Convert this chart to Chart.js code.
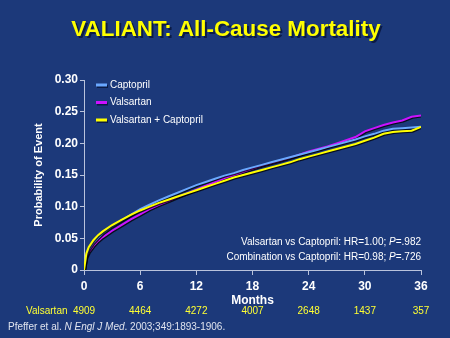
<!DOCTYPE html>
<html>
<head>
<meta charset="utf-8">
<title>VALIANT: All-Cause Mortality</title>
<script src="https://cdn.jsdelivr.net/npm/chart.js@4"></script>
<style>
  html, body { margin: 0; padding: 0; background: #1c397a; }
  #wrap { width: 450px; height: 338px; position: relative; }
</style>
</head>
<body>
<div id="wrap"><canvas id="grafico" width="450" height="338"></canvas></div>
<script>
/* =========================
   DADOS
========================= */
const meses = [0, 0.25, 0.5, 1, 1.5, 2, 3, 4, 5, 6, 7, 8, 9, 10, 11, 12, 13, 14, 15, 16, 17, 18,
  19, 20, 21, 22, 23, 24, 25, 26, 27, 28, 29, 30, 31, 32, 33, 34, 35, 36];

const captopril = [0, 0.022, 0.032, 0.043, 0.051, 0.058, 0.069, 0.078, 0.087, 0.096, 0.103, 0.110,
  0.116, 0.122, 0.128, 0.134, 0.139, 0.144, 0.149, 0.153, 0.158, 0.162, 0.166, 0.170, 0.174,
  0.178, 0.182, 0.186, 0.190, 0.194, 0.198, 0.202, 0.206, 0.211, 0.215, 0.220, 0.223, 0.224,
  0.225, 0.226];

const valsartan = [0, 0.020, 0.028, 0.038, 0.046, 0.052, 0.062, 0.071, 0.080, 0.088, 0.096, 0.103,
  0.109, 0.115, 0.121, 0.127, 0.133, 0.139, 0.145, 0.150, 0.155, 0.160, 0.165, 0.169, 0.173,
  0.177, 0.182, 0.187, 0.191, 0.195, 0.200, 0.205, 0.210, 0.219, 0.224, 0.229, 0.233, 0.236,
  0.242, 0.244];

const combinacao = [0, 0.026, 0.036, 0.047, 0.055, 0.061, 0.071, 0.079, 0.087, 0.094, 0.100, 0.106,
  0.111, 0.116, 0.121, 0.126, 0.131, 0.136, 0.141, 0.146, 0.150, 0.154, 0.158, 0.162, 0.166,
  0.170, 0.175, 0.179, 0.183, 0.187, 0.191, 0.195, 0.199, 0.204, 0.209, 0.215, 0.218, 0.219,
  0.220, 0.226];

const mesesRisco = [0, 6, 12, 18, 24, 30, 36];
const emRisco = [4909, 4464, 4272, 4007, 2648, 1437, 357];

const FONTE = "'Liberation Sans', Arial, Helvetica, sans-serif";

function pontos(valores) {
  return meses.map((m, i) => ({ x: m, y: valores[i] }));
}

/* =========================
   TEXTOS EXTRAS (título, legenda, HR, números em risco)
========================= */
const textosExtras = {
  id: "textosExtras",
  beforeDatasetsDraw(chart) {
    chart.ctx.save();
    chart.ctx.shadowColor = "rgba(0,0,0,0.75)";
    chart.ctx.shadowOffsetX = 1;
    chart.ctx.shadowOffsetY = 1;
  },
  afterDatasetsDraw(chart) {
    chart.ctx.restore();
  },
  afterDraw(chart) {
    const ctx = chart.ctx;
    const x = chart.scales.x;

    // título
    ctx.save();
    ctx.font = "bold 22.4px " + FONTE;
    ctx.textAlign = "center";
    ctx.textBaseline = "alphabetic";
    ctx.fillStyle = "#0b1b45";
    ctx.fillText("VALIANT: All-Cause Mortality", 228, 38);
    ctx.fillStyle = "#ffff00";
    ctx.fillText("VALIANT: All-Cause Mortality", 226, 36);

    // legenda
    ctx.font = "10px " + FONTE;
    ctx.textAlign = "left";
    ctx.textBaseline = "middle";
    chart.data.datasets.forEach((ds, i) => {
      const y = 85 + i * 17.5;
      ctx.fillStyle = "#0b1b45";
      ctx.fillRect(97, y, 11, 3);
      ctx.fillStyle = ds.borderColor;
      ctx.fillRect(96, y - 1.5, 11, 3);
      ctx.fillStyle = "#ffffff";
      ctx.fillText(ds.label, 110, y);
    });

    // HR / P
    ctx.textAlign = "left";
    const linhas = [
      ["Valsartan vs Captopril: HR=1.00; ", ".982", 242],
      ["Combination vs Captopril: HR=0.98; ", ".726", 257]
    ];
    linhas.forEach(([a, p, y]) => {
      ctx.font = "10px " + FONTE;
      const w1 = ctx.measureText(a).width;
      const w3 = ctx.measureText("=" + p).width;
      ctx.font = "italic 10px " + FONTE;
      const w2 = ctx.measureText("P").width;
      let xi = 421 - (w1 + w2 + w3);
      ctx.fillStyle = "#ffffff";
      ctx.font = "10px " + FONTE;
      ctx.fillText(a, xi, y);
      ctx.font = "italic 10px " + FONTE;
      ctx.fillText("P", xi + w1, y);
      ctx.font = "10px " + FONTE;
      ctx.fillText("=" + p, xi + w1 + w2, y);
    });

    // números em risco
    ctx.fillStyle = "#ffff33";
    ctx.font = "10px " + FONTE;
    ctx.textAlign = "left";
    ctx.fillText("Valsartan", 26, 311);
    ctx.textAlign = "center";
    mesesRisco.forEach((m, i) => {
      ctx.fillText(String(emRisco[i]), x.getPixelForValue(m), 311);
    });

    // referência
    ctx.fillStyle = "#dfe3ee";
    ctx.textAlign = "left";
    let cx = 8;
    const partes = [
      ["Pfeffer et al. ", "10px "],
      ["N Engl J Med", "italic 10px "],
      [". 2003;349:1893-1906.", "10px "]
    ];
    partes.forEach(([t, f]) => {
      ctx.font = f + FONTE;
      ctx.fillText(t, cx, 327);
      cx += ctx.measureText(t).width;
    });
    ctx.restore();
  }
};

/* =========================
   GRÁFICO
========================= */
const eixoCor = "#b9c3dc";

new Chart(document.getElementById("grafico").getContext("2d"), {
  type: "line",
  data: {
    datasets: [
      { label: "Captopril", data: pontos(captopril), borderColor: "#6aa8ff", order: 1 },
      { label: "Valsartan", data: pontos(valsartan), borderColor: "#cc11ff", order: 2 },
      { label: "Valsartan + Captopril", data: pontos(combinacao), borderColor: "#ffff00", order: 0 }
    ]
  },
  options: {
    responsive: false,
    animation: false,
    events: [],
    elements: {
      line: { borderWidth: 2, tension: 0, fill: false },
      point: { radius: 0 }
    },
    layout: { padding: { left: 28, right: 29, top: 80, bottom: 30 } },
    plugins: {
      legend: { display: false },
      tooltip: { enabled: false },
      title: { display: false }
    },
    scales: {
      x: {
        type: "linear",
        min: 0,
        max: 36,
        afterFit(scale) { scale.height = 38; },
        ticks: {
          stepSize: 6,
          color: "#ffffff",
          font: { family: FONTE, size: 12, weight: "bold" },
          padding: 4,
          maxRotation: 0
        },
        grid: { drawOnChartArea: false, tickLength: 5, color: eixoCor },
        border: { color: eixoCor, width: 1 },
        title: {
          display: true,
          text: "Months",
          color: "#ffffff",
          font: { family: FONTE, size: 12, weight: "bold" },
          padding: { top: 0, bottom: 0 }
        }
      },
      y: {
        min: 0,
        max: 0.3,
        afterFit(scale) { scale.width = 56; },
        ticks: {
          stepSize: 0.05,
          color: "#ffffff",
          font: { family: FONTE, size: 12, weight: "bold" },
          padding: 2,
          callback: v => (v === 0 ? "0" : v.toFixed(2))
        },
        grid: { drawOnChartArea: false, tickLength: 4, color: eixoCor },
        border: { color: eixoCor, width: 1 },
        title: {
          display: true,
          text: "Probability of Event",
          color: "#ffffff",
          font: { family: FONTE, size: 11, weight: "bold" }
        }
      }
    }
  },
  plugins: [textosExtras]
});
</script>
</body>
</html>
